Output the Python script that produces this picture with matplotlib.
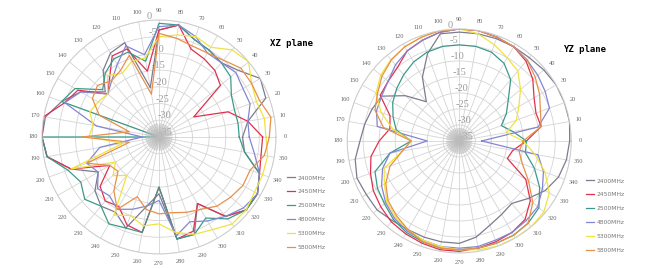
import matplotlib.pyplot as plt
import numpy as np

# angles every 10 deg, values in dB
angles_deg = list(range(0, 360, 10))
freqs = ['2400MHz', '2450MHz', '2500MHz', '4800MHz', '5300MHz', '5800MHz']
colors = ['#7c7c90', '#e0304e', '#3c9a8a', '#8585d2', '#f2e23e', '#e8904a']

# XZ plane
xz_2400 = [-10, -8, -1, 0, -4, -6, -5, -4, -1, -3, -20, -5, -6, -9, -14, -8, -4, -0.5,
           0, -1, -7, -14, -10, -8, -9, -6, -14, -18, -4, -4, -12, -4, -1, -1, -3, -9]
xz_2450 = [-4, -8, -13, -23, -11, -9, -8, -7, -1, -3, -15, -7, -7, -12, -15, -7, -5, 0,
           0, -1, -7, -18, -12, -10, -11, -7, -6, -20, -4, -5, -12, -4, -1, -1, -3, -4]
xz_2500 = [-11, -11, -11, -10, -7, -6, -5, -4, -1, -1, -12, -8, -8, -10, -13, -6, -4, -35,
           0, -1, -6, -8, -6, -8, -5, -6, -6, -20, -4, -4, -7, -3, -1, -1, -3, -9]
xz_4800 = [-8, -8, -6, -6, -5, -6, -6, -3, -1, -2, -10, -6, -10, -13, -15, -8, -5, -16,
           -30, -17, -12, -14, -11, -12, -10, -12, -14, -16, -5, -8, -6, -4, -2, -1, -3, -6]
xz_5300 = [-3, -3, -4, -3, 0, -1, -4, -3, -4, -5, -11, -11, -13, -11, -15, -14, -13, -15,
           -14, -24, -7, -20, -17, -20, -8, -10, -8, -9, -6, -4, -3, -1, -1, -2, -2, -2]
xz_5800 = [-2, -1, -3, -3, -3, -5, -6, -6, -5, -4, -22, -9, -12, -13, -11, -12, -16, -26,
           -12, -26, -12, -18, -19, -14, -10, -16, -13, -12, -12, -11, -10, -8, -7, -6, -6, -3]

# YZ plane
yz_2400 = [-0.5, 0, 0, 0, -0.5, -1, -1, -1, -1, -1, -1, -6, -12, -19, -13, -7, -6, -5,
           -4, -2, -1, -1.5, -1.5, -2.5, -3, -3, -3, -3, -4.5, -7, -8.5, -9.5, -7, -4, -2, -1]
yz_2450 = [-14, -9, -9.5, -8, -5, -2.5, -1, -0.5, 0, 0, -0.5, -1.5, -2.5, -5, -6, -6.5, -12, -13,
           -10, -7, -5.5, -4, -3, -2, -1.5, -1, -0.5, -0.5, -1, -1.5, -2, -3, -6, -11, -19, -18]
yz_2500 = [-14, -18, -21, -18, -15, -10, -7, -5.5, -5, -5, -5, -5.5, -6.5, -8, -9.5, -11, -13, -15,
           -20, -13, -7, -5.5, -4.5, -3, -2, -1.5, -1, -1, -1, -1, -1, -1.5, -2.5, -6, -10, -14]
yz_4800 = [-28, -10, -5, -4, -3, -2, -1, -0.5, 0, 0, -0.5, -1.5, -2.5, -4, -6, -7, -7.5, -9,
           -25, -13, -9.5, -7, -5, -3.5, -2.5, -2, -1.5, -1.5, -1.5, -2, -2, -2.5, -3, -5, -7, -10]
yz_5300 = [-15, -20, -16, -13.5, -10, -6.5, -5, -3, -1, 0, 0, -0.5, -1, -1.8, -3, -5, -9, -14,
           -20, -17, -10, -8, -5.5, -4, -3, -2, -1.5, -1, -0.5, 0, 0, 0, -0.5, -2.5, -6.5, -11]
yz_5800 = [-15, -9, -8, -6, -4, -2, -1, -0.5, 0, 0, 0, -0.5, -1, -2, -3.5, -5.5, -7, -11,
           -20, -17, -12, -8.5, -6, -4.5, -3, -1.5, -1, -1, -1, -1, -1, -1.5, -5, -10, -14, -16]

r_ticks = [-35, -30, -25, -20, -15, -10, -5, 0]


def polar_panel(rect, series, title, title_xy, legend_xy):
    ax = fig.add_axes(rect, projection='polar')
    th = np.deg2rad(angles_deg + [360])
    for vals, c, lab in zip(series, colors, freqs):
        ax.plot(th, vals + [vals[0]], color=c, lw=0.9, label=lab)
    ax.set_ylim(-35, 0)
    ax.set_yticks(r_ticks)
    ax.set_yticklabels([str(v) for v in r_ticks], fontsize=7.5, color='#9a9a9a',
                       family='Liberation Serif')
    ax.set_rlabel_position(96)
    ax.set_thetagrids(angles_deg, [str(a) for a in angles_deg], fontsize=4.6,
                      color='#666666', family='Liberation Serif')
    ax.tick_params(axis='x', pad=-4)
    ax.grid(color='#d4d4d4', lw=0.6)
    ax.spines['polar'].set_color('#cccccc')
    ax.spines['polar'].set_linewidth(0.7)
    # dense spokes near the centre
    for a in np.arange(0, 360, 5):
        ax.plot([np.deg2rad(a)] * 2, [-35, -31], color='#bbbbbb', lw=0.4)
    fig.text(title_xy[0], title_xy[1], title, fontsize=6.5, fontweight='bold',
             family='DejaVu Sans Mono', ha='left', va='center')
    fig.legend(*ax.get_legend_handles_labels(), loc='upper left',
               bbox_to_anchor=legend_xy, frameon=False, fontsize=4.3,
               handlelength=1.3, handletextpad=0.4, labelspacing=1.45,
               labelcolor='#777777')
    return ax


fig = plt.figure(figsize=(6.5, 2.69), dpi=100)

polar_panel([0.0646, 0.0558, 0.36, 0.87], [xz_2400, xz_2450, xz_2500, xz_4800, xz_5300, xz_5800],
            'XZ plane', (270 / 650, 1 - 43 / 269), (282 / 650, 1 - 170 / 269))
polar_panel([0.534, 0.0595, 0.345, 0.833], [yz_2400, yz_2450, yz_2500, yz_4800, yz_5300, yz_5800],
            'YZ plane', (563 / 650, 1 - 50 / 269), (581 / 650, 1 - 173 / 269))

fig.savefig('out.png', dpi=100)
